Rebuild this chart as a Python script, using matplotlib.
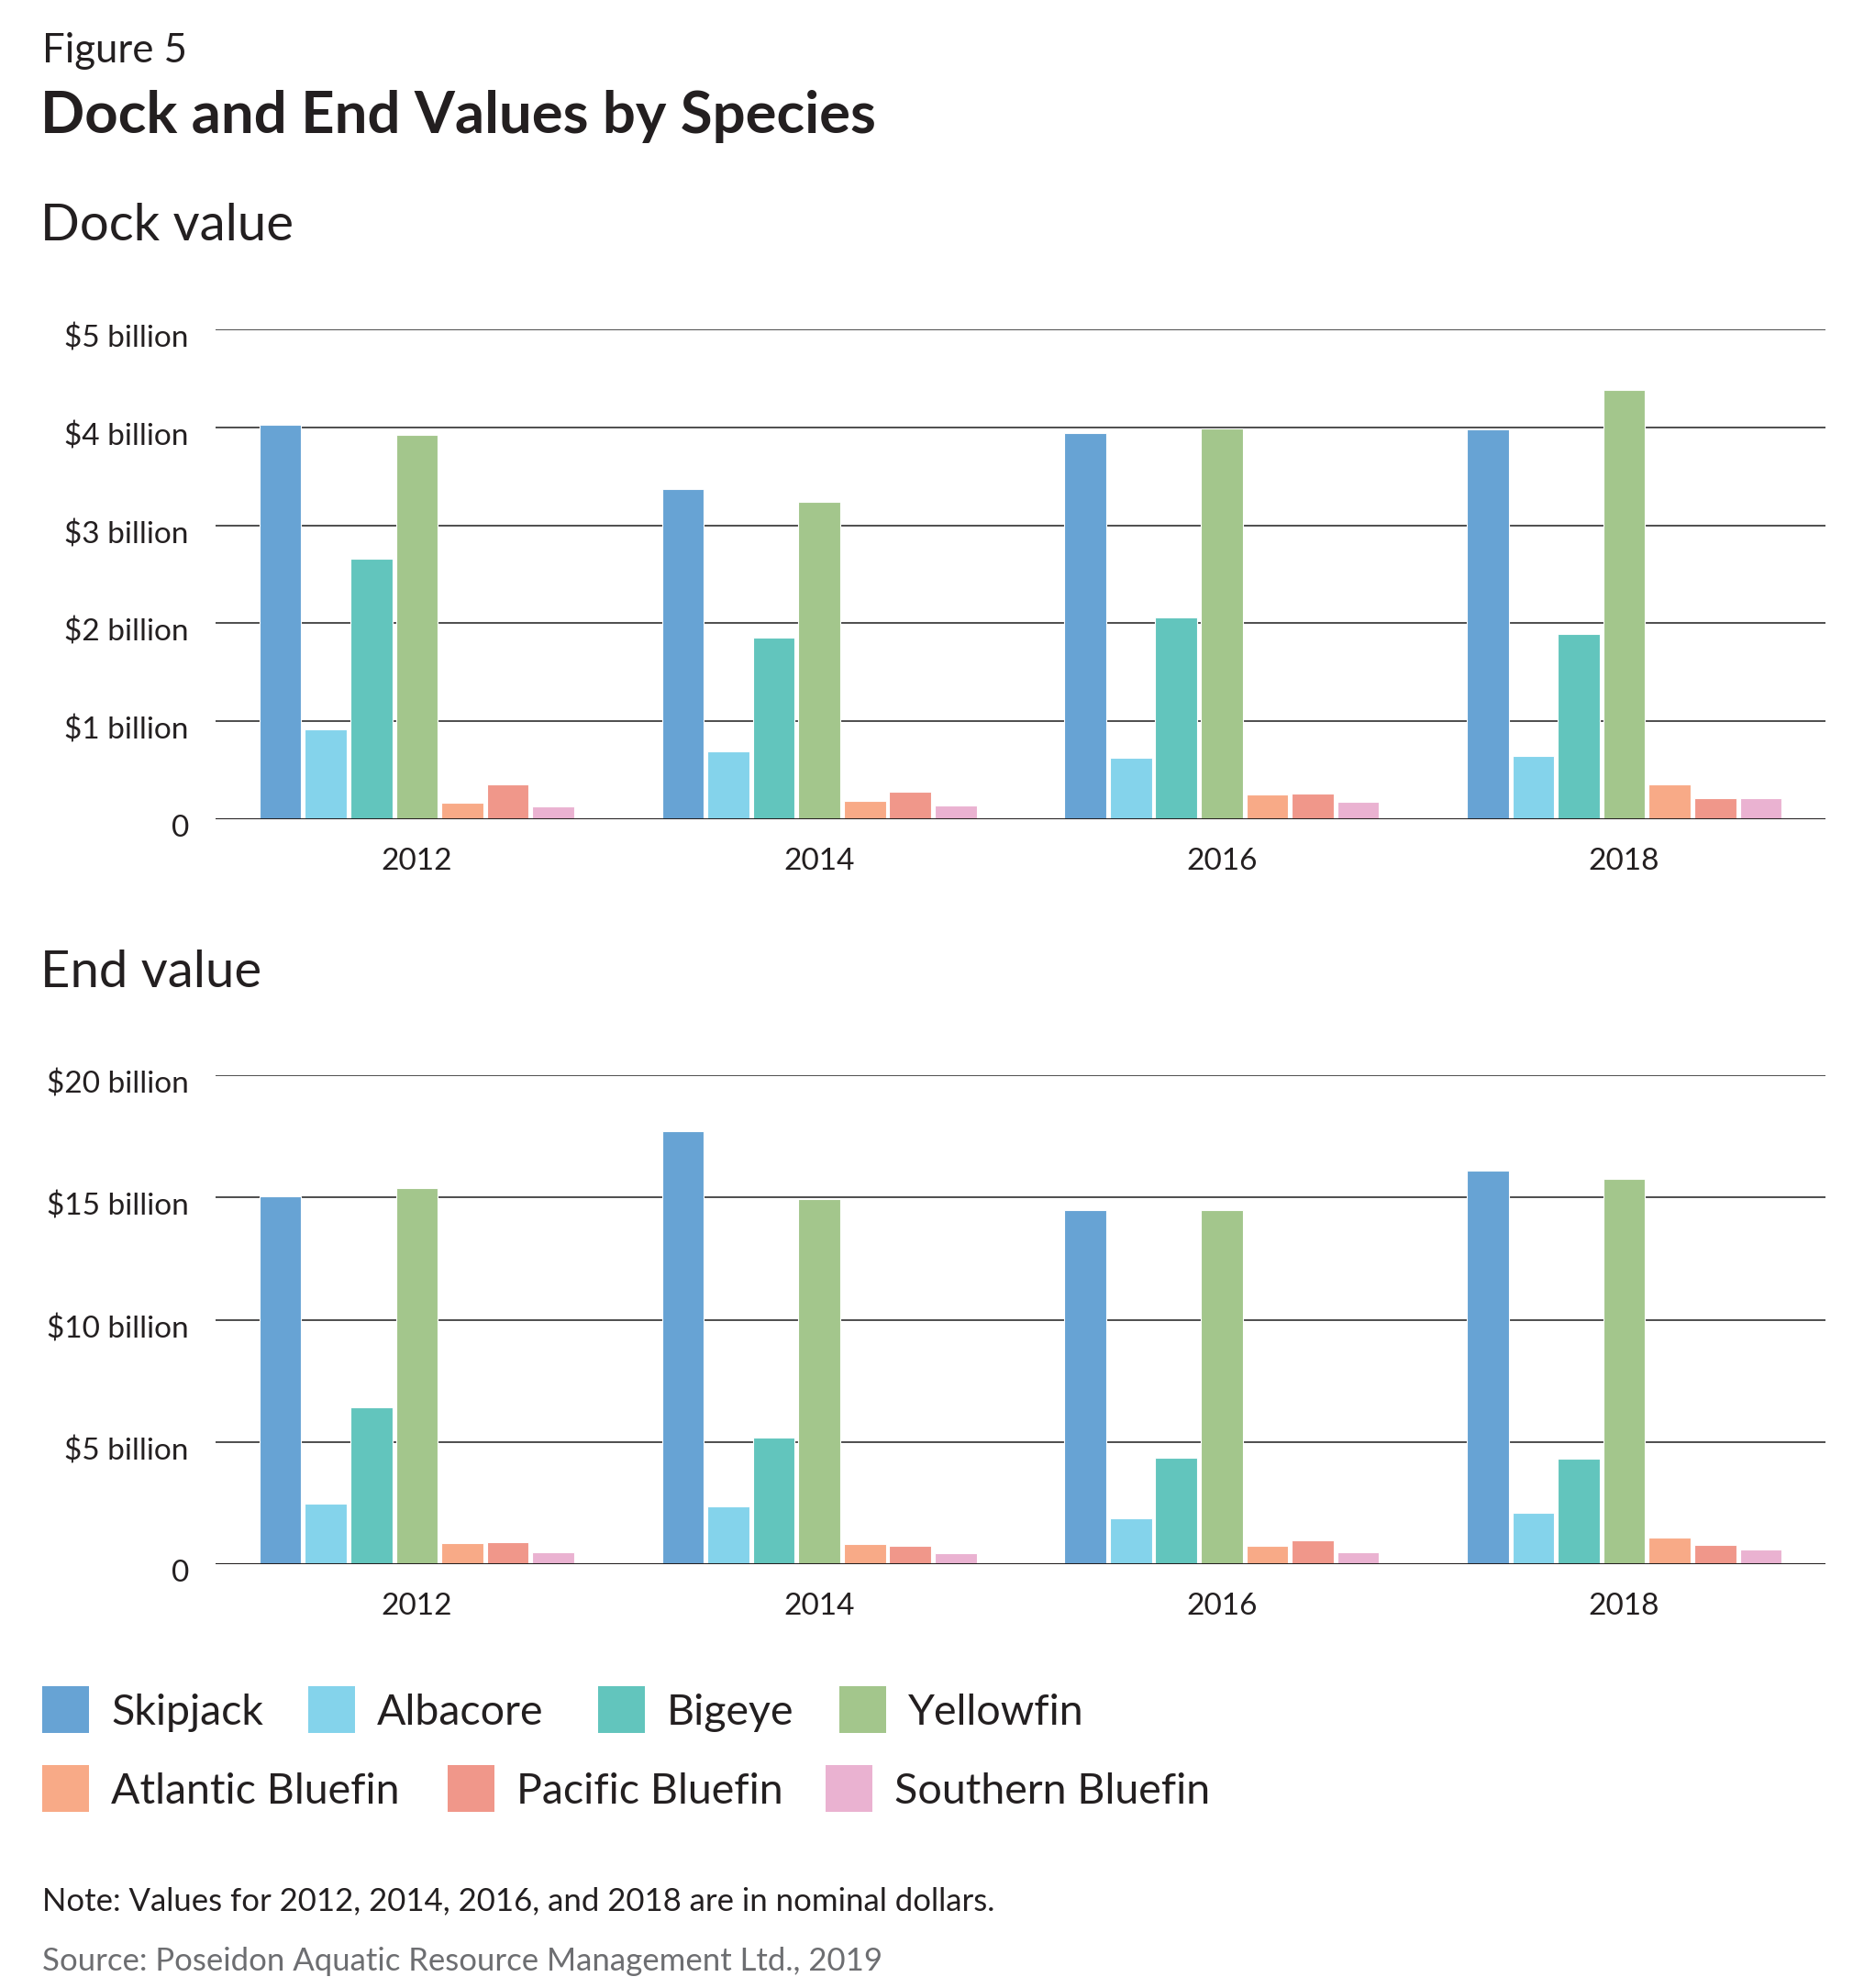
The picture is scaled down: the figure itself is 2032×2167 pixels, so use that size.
import numpy as np
import matplotlib
matplotlib.use("Agg")
import matplotlib.pyplot as plt
from matplotlib.patches import Rectangle
from matplotlib.transforms import ScaledTranslation

plt.rcParams['font.family'] = ['Lato', 'DejaVu Sans']

years = ["2012", "2014", "2016", "2018"]
species = ["Skipjack", "Albacore", "Bigeye", "Yellowfin",
           "Atlantic Bluefin", "Pacific Bluefin", "Southern Bluefin"]
colors = ["#67a3d4", "#84d3eb", "#62c5bd", "#a3c68c",
          "#f8aa87", "#f0978a", "#eab2d1"]

# dock values, $ billion, one list per species (2012, 2014, 2016, 2018)
dock_skipjack = [4.03, 3.37, 3.94, 3.98]
dock_albacore = [0.92, 0.69, 0.63, 0.65]
dock_bigeye = [2.66, 1.85, 2.06, 1.89]
dock_yellowfin = [3.92, 3.24, 3.99, 4.38]
dock_atlantic = [0.17, 0.19, 0.25, 0.36]
dock_pacific = [0.36, 0.28, 0.26, 0.22]
dock_southern = [0.13, 0.14, 0.18, 0.22]

# end values, $ billion
end_skipjack = [15.03, 17.72, 14.5, 16.11]
end_albacore = [2.46, 2.36, 1.88, 2.1]
end_bigeye = [6.42, 5.18, 4.35, 4.3]
end_yellowfin = [15.39, 14.92, 14.5, 15.75]
end_atlantic = [0.88, 0.81, 0.75, 1.09]
end_pacific = [0.91, 0.76, 0.98, 0.79]
end_southern = [0.49, 0.45, 0.49, 0.6]

dock_ticks = [0, 1, 2, 3, 4, 5]
dock_labels = ["0", "$1 billion", "$2 billion", "$3 billion", "$4 billion", "$5 billion"]
end_ticks = [0, 5, 10, 15, 20]
end_labels = ["0", "$5 billion", "$10 billion", "$15 billion", "$20 billion"]

dock = [dock_skipjack, dock_albacore, dock_bigeye, dock_yellowfin,
        dock_atlantic, dock_pacific, dock_southern]
end = [end_skipjack, end_albacore, end_bigeye, end_yellowfin,
       end_atlantic, end_pacific, end_southern]

TXT = "#231f20"
W, H = 2033, 2167
fig = plt.figure(figsize=(W / 100, H / 100), dpi=100)


def draw_panel(rect, series, ticks, labels):
    ax = fig.add_axes(rect)
    x = np.arange(len(years))
    slot = 0.113
    for k, vals in enumerate(series):
        ax.bar(x + (k - 3) * slot, vals, width=slot * 0.92, color=colors[k],
               edgecolor="white", linewidth=0.8, zorder=3)
    ax.set_xlim(-0.5, 3.5)
    ax.set_ylim(0, ticks[-1])
    for t in ticks[1:]:
        ax.axhline(t, color="#4d4d4d", linewidth=1.4, zorder=1)
    ax.axhline(0, color="#231f20", linewidth=2.2, zorder=4)
    ax.set_yticks(ticks)
    ax.set_yticklabels(labels)
    ax.set_xticks(x)
    ax.set_xticklabels(years)
    ax.tick_params(axis="y", length=0, pad=21, labelsize=24, labelcolor=TXT)
    ax.tick_params(axis="x", length=0, pad=22, labelsize=24, labelcolor=TXT)
    # labels sit a little below their gridlines in the original
    shift = ScaledTranslation(0, -0.07, fig.dpi_scale_trans)
    for lbl in ax.get_yticklabels():
        lbl.set_transform(lbl.get_transform() + shift)
    for s in ax.spines.values():
        s.set_visible(False)
    return ax


def frac(top_px, bottom_px, left_px=235, right_px=1990):
    return [left_px / W, 1 - bottom_px / H, (right_px - left_px) / W, (bottom_px - top_px) / H]


draw_panel(frac(359, 893), dock, dock_ticks, dock_labels)
draw_panel(frac(1172, 1705), end, end_ticks, end_labels)

# titles
fig.text(46 / W, 1 - 55 / H, "Figure 5", fontsize=31.5, color=TXT, va="center")
fig.text(44 / W, 1 - 127 / H, "Dock and End Values by Species", fontsize=45.7,
         fontweight="bold", color=TXT, va="center")
fig.text(44 / W, 1 - 247 / H, "Dock value", fontsize=40.5, color=TXT, va="center")
fig.text(44 / W, 1 - 1060 / H, "End value", fontsize=40.5, color=TXT, va="center")

# legend, drawn by hand in pixel space
legend_pos = [(46, 1863), (336, 1863), (652, 1863), (915, 1863),
              (46, 1949), (488, 1949), (900, 1949)]
sq = 51
for (lx, ly), name, c in zip(legend_pos, species, colors):
    fig.patches.append(Rectangle((lx / W, 1 - (ly + sq / 2) / H), sq / W, sq / H,
                                 transform=fig.transFigure, facecolor=c,
                                 edgecolor="none"))
    fig.text((lx + sq + 24) / W, 1 - (ly + 4) / H, name, fontsize=33.5, color=TXT,
             va="center")

fig.text(46 / W, 1 - 2072 / H, "Note: Values for 2012, 2014, 2016, and 2018 are in nominal dollars.",
         fontsize=25, color=TXT, va="center")
fig.text(46 / W, 1 - 2138 / H, "Source: Poseidon Aquatic Resource Management Ltd., 2019",
         fontsize=25, color="#6d6e71", va="center")

fig.savefig("out.png", dpi=100, facecolor="white")
